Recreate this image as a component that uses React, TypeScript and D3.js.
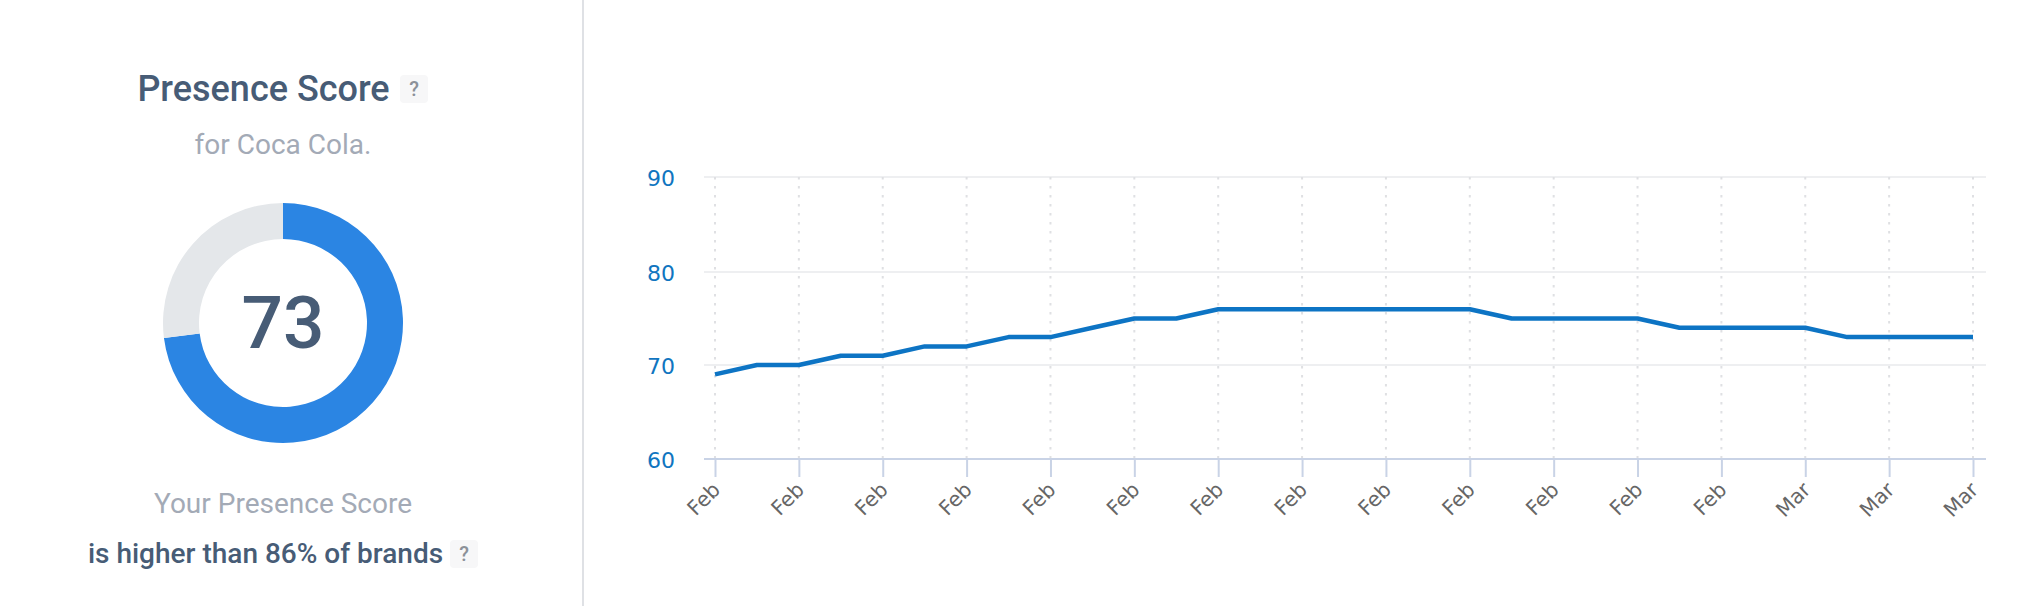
import React, { useRef, useEffect } from 'react';
import * as d3 from 'd3';

const scoreValue = 73;
const scoreRest = 27;
const yTicks = [60, 70, 80, 90];
const xLabels = ['Feb', 'Feb', 'Feb', 'Feb', 'Feb', 'Feb', 'Feb', 'Feb', 'Feb', 'Feb', 'Feb', 'Feb', 'Feb', 'Mar', 'Mar', 'Mar'];
// two readings per labelled tick
const presence = [69, 70, 70, 71, 71, 72, 72, 73, 73, 74, 75, 75, 76, 76, 76, 76, 76, 76, 76, 75, 75, 75, 75, 74, 74, 74, 74, 73, 73, 73, 73];

const colors = {
  heading: '#475c76',
  muted: '#a3aab6',
  badge: '#f7f7f8',
  badgeText: '#8c9199',
  donut: '#2b85e3',
  donutRest: '#e4e7ea',
  line: '#0d74c4',
  yLabel: '#1075c0',
  xLabel: '#666666',
  grid: '#eeeff1',
  dots: '#dfe0e3',
  axis: '#c9d3e6',
  divider: '#dfe1e5',
};

const App: React.FC = () => {
  const svgRef = useRef<SVGSVGElement | null>(null);

  useEffect(() => {
    if (!svgRef.current) return;
    const svg = d3.select(svgRef.current);
    svg.selectAll('*').remove();

    const roboto = 'Roboto, sans-serif';
    const dejavu = '"DejaVu Sans", sans-serif';

    // Left panel divider
    svg.append('line')
      .attr('x1', 583).attr('x2', 583)
      .attr('y1', 0).attr('y2', 606)
      .attr('stroke', colors.divider)
      .attr('stroke-width', 2);

    const label = (x: number, y: number, text: string, size: number, weight: number, fill: string) =>
      svg.append('text')
        .attr('x', x).attr('y', y)
        .attr('text-anchor', 'middle')
        .attr('dominant-baseline', 'central')
        .attr('font-family', roboto)
        .attr('font-size', size)
        .attr('font-weight', weight)
        .attr('fill', fill)
        .text(text);

    const badge = (x: number, y: number) => {
      svg.append('rect')
        .attr('x', x).attr('y', y)
        .attr('width', 28).attr('height', 28)
        .attr('rx', 4)
        .attr('fill', colors.badge);
      label(x + 14, y + 14, '?', 20, 500, colors.badgeText);
    };

    label(263.5, 89, 'Presence Score', 36, 500, colors.heading);
    badge(400, 75);
    label(283, 144, 'for Coca Cola.', 28, 400, colors.muted);
    label(283, 503, 'Your Presence Score', 28, 400, colors.muted);
    label(265.5, 553, 'is higher than 86% of brands', 28, 500, colors.heading);
    badge(450, 540);

    // Donut
    const pie = d3.pie<number>().sort(null);
    const arc = d3.arc<d3.PieArcDatum<number>>().innerRadius(84).outerRadius(120);
    const donut = svg.append('g').attr('transform', 'translate(283,323)');
    donut.selectAll('path')
      .data(pie([scoreValue, scoreRest]))
      .join('path')
      .attr('d', arc)
      .attr('fill', (_, i) => (i === 0 ? colors.donut : colors.donutRest));
    label(283, 323, String(scoreValue), 73, 500, colors.heading);

    // Line chart
    const left = 704;
    const right = 1986;
    const x = d3.scaleLinear().domain([0, xLabels.length - 1]).range([715, 1973]);
    const y = d3.scaleLinear().domain(yTicks).range([459, 365, 272, 177]);

    const grid = svg.append('g');
    yTicks.slice(1).forEach((t) => {
      grid.append('line')
        .attr('x1', left).attr('x2', right)
        .attr('y1', y(t)).attr('y2', y(t))
        .attr('stroke', colors.grid)
        .attr('stroke-width', 2);
    });
    xLabels.forEach((_, i) => {
      grid.append('line')
        .attr('x1', x(i)).attr('x2', x(i))
        .attr('y1', y(90)).attr('y2', y(60))
        .attr('stroke', colors.dots)
        .attr('stroke-width', 2)
        .attr('stroke-dasharray', '2.5 6.5');
    });

    const yAxis = d3.axisLeft(y).tickValues(yTicks).tickSize(0).tickPadding(29);
    const yG = svg.append('g').attr('transform', `translate(${left},0)`).call(yAxis);
    yG.select('.domain').remove();
    yG.selectAll('text')
      .attr('font-family', dejavu)
      .attr('font-size', 22)
      .attr('fill', colors.yLabel)
      .attr('dy', '0.4em');

    const xAxis = d3.axisBottom(x)
      .tickValues(d3.range(xLabels.length))
      .tickFormat((_, i) => xLabels[i])
      .tickSize(18)
      .tickSizeOuter(0);
    const xG = svg.append('g').attr('transform', `translate(0,${y(60)})`).call(xAxis);
    xG.select('.domain').remove();
    xG.selectAll('.tick line').attr('stroke', colors.axis).attr('stroke-width', 2);
    xG.selectAll('text')
      .attr('font-family', dejavu)
      .attr('font-size', 20.5)
      .attr('fill', colors.xLabel)
      .attr('text-anchor', 'end')
      .attr('y', 0)
      .attr('dy', 0)
      .attr('transform', 'translate(6,32) rotate(-45)');
    svg.append('line')
      .attr('x1', left).attr('x2', right)
      .attr('y1', y(60)).attr('y2', y(60))
      .attr('stroke', colors.axis)
      .attr('stroke-width', 2);

    const line = d3.line<number>()
      .x((_, i) => x(i / 2))
      .y((d) => y(d));
    svg.append('path')
      .datum(presence)
      .attr('d', line)
      .attr('fill', 'none')
      .attr('stroke', colors.line)
      .attr('stroke-width', 4.5)
      .attr('stroke-linejoin', 'round');
  }, []);

  return (
    <svg
      ref={svgRef}
      width={2020}
      height={606}
      style={{ position: 'absolute', top: 0, left: 0, background: '#fff' }}
    />
  );
};

export default App;
